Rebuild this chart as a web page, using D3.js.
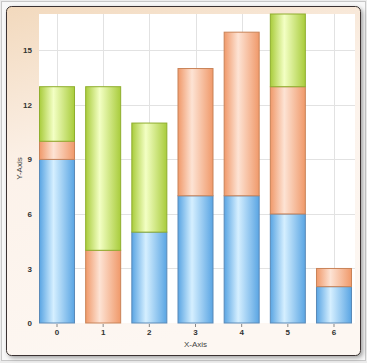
<!DOCTYPE html>
<html>
<head>
<meta charset="utf-8">
<script src="https://cdn.jsdelivr.net/npm/d3@7"></script>
<style>
  body { margin: 0; background: #ececec; }
  svg { display: block; font-family: "Liberation Sans", Arial, sans-serif; }
</style>
</head>
<body>
<svg id="chart" width="367" height="363"></svg>
<script>
var categories = ["0", "1", "2", "3", "4", "5", "6"];
var blueValues = [9, 0, 5, 7, 7, 6, 2];
var orangeValues = [1, 4, 0, 7, 9, 7, 1];
var greenValues = [3, 9, 6, 0, 0, 4, 0];
var yTicks = [0, 3, 6, 9, 12, 15];

var svg = d3.select("#chart");
var defs = svg.append("defs");

var frameGrad = defs.append("linearGradient").attr("id", "frameGrad")
    .attr("x1", "0").attr("y1", "0").attr("x2", "0.3").attr("y2", "1");
frameGrad.append("stop").attr("offset", "0").attr("stop-color", "#f2d9bd");
frameGrad.append("stop").attr("offset", "0.45").attr("stop-color", "#fcf2ea");
frameGrad.append("stop").attr("offset", "1").attr("stop-color", "#fdf7f2");

var shadow = defs.append("filter").attr("id", "shadow")
    .attr("x", "-5%").attr("y", "-5%").attr("width", "115%").attr("height", "115%");
shadow.append("feDropShadow").attr("dx", 2).attr("dy", 2).attr("stdDeviation", 2)
    .attr("flood-color", "#000").attr("flood-opacity", 0.35);

function barGradient(id, edge, mid) {
    var g = defs.append("linearGradient").attr("id", id)
        .attr("x1", "0").attr("y1", "0").attr("x2", "1").attr("y2", "0");
    g.append("stop").attr("offset", "0").attr("stop-color", edge);
    g.append("stop").attr("offset", "0.4").attr("stop-color", mid);
    g.append("stop").attr("offset", "1").attr("stop-color", edge);
}
barGradient("gBlue", "#5aa5e3", "#d5efff");
barGradient("gOrange", "#f0996a", "#fde3d4");
barGradient("gGreen", "#a9cc3c", "#f3ffc4");

var series = [
    { values: blueValues, fill: "url(#gBlue)", stroke: "#5a8ab8" },
    { values: orangeValues, fill: "url(#gOrange)", stroke: "#c98358" },
    { values: greenValues, fill: "url(#gGreen)", stroke: "#8fae2e" }
];

// outer frame
svg.append("rect").attr("x", 1.5).attr("y", 1.5).attr("width", 364).attr("height", 359)
    .attr("fill", "#f8f8f8").attr("stroke", "#c8c8c8");
svg.append("rect").attr("x", 6.5).attr("y", 6.5).attr("width", 354).attr("height", 349)
    .attr("rx", 5).attr("fill", "url(#frameGrad)").attr("stroke", "#3a3330")
    .attr("filter", "url(#shadow)");

var plotLeft = 39, plotRight = 352, plotTop = 14, plotBottom = 323;

var x = d3.scaleBand().domain(categories).range([plotLeft, plotRight])
    .paddingInner(0.22).paddingOuter(0);
var y = d3.scaleLinear().domain([0, 17]).range([plotBottom, plotTop]);

// plot background
svg.append("rect").attr("x", plotLeft).attr("y", plotTop).attr("width", plotRight - plotLeft + 3)
    .attr("height", plotBottom - plotTop).attr("fill", "#fff");

// grid
svg.append("g").selectAll("line").data(yTicks.slice(1)).enter().append("line")
    .attr("x1", plotLeft).attr("x2", plotRight + 3)
    .attr("y1", function (d) { return Math.round(y(d)) + 0.5; })
    .attr("y2", function (d) { return Math.round(y(d)) + 0.5; })
    .attr("stroke", "#e2e2e2");
svg.append("g").selectAll("line").data(categories).enter().append("line")
    .attr("x1", function (d) { return Math.round(x(d) + x.bandwidth() / 2) + 0.5; })
    .attr("x2", function (d) { return Math.round(x(d) + x.bandwidth() / 2) + 0.5; })
    .attr("y1", plotTop).attr("y2", plotBottom)
    .attr("stroke", "#e2e2e2");

// stacked bars
var base = categories.map(function () { return 0; });
series.forEach(function (s) {
    svg.append("g").selectAll("rect").data(categories).enter()
        .filter(function (d, i) { return s.values[i] > 0; })
        .append("rect")
        .attr("x", function (d) { return x(d) + 0.5; })
        .attr("width", x.bandwidth() - 1)
        .attr("y", function (d) {
            var i = categories.indexOf(d);
            return y(base[i] + s.values[i]);
        })
        .attr("height", function (d) {
            var i = categories.indexOf(d);
            return y(base[i]) - y(base[i] + s.values[i]);
        })
        .attr("fill", s.fill)
        .attr("stroke", s.stroke)
        .attr("stroke-width", 1);
    categories.forEach(function (d, i) { base[i] += s.values[i]; });
});

// axes
var xAxis = svg.append("g").attr("transform", "translate(0," + (plotBottom + 1) + ")")
    .call(d3.axisBottom(x).tickSize(3).tickPadding(2));
xAxis.select(".domain").remove();
xAxis.selectAll(".tick line").attr("stroke", "#888");
xAxis.selectAll("text").attr("font-size", 8).attr("font-weight", "bold").attr("fill", "#333");

var yAxis = svg.append("g").attr("transform", "translate(" + plotLeft + ",0)")
    .call(d3.axisLeft(y).tickValues(yTicks).tickSize(0).tickPadding(7));
yAxis.select(".domain").remove();
yAxis.selectAll("text").attr("font-size", 8).attr("font-weight", "bold").attr("fill", "#333");

svg.append("text").attr("x", (plotLeft + plotRight) / 2).attr("y", 347)
    .attr("text-anchor", "middle").attr("font-size", 8).attr("fill", "#444").text("X-Axis");
svg.append("text").attr("transform", "translate(22," + ((plotTop + plotBottom) / 2) + ") rotate(-90)")
    .attr("text-anchor", "middle").attr("font-size", 8).attr("fill", "#444").text("Y-Axis");
</script>
</body>
</html>
